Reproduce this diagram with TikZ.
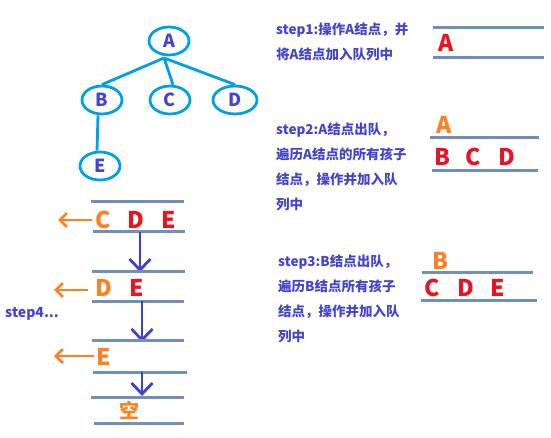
\documentclass[tikz,border=0pt]{standalone}
\usepackage{fontspec}
\setmainfont{Noto Sans CJK SC}
\usetikzlibrary{shapes.geometric,arrows.meta}
\definecolor{treeblue}{RGB}{0,160,225}
\definecolor{textblue}{RGB}{68,68,204}
\definecolor{qorange}{RGB}{255,128,32}
\definecolor{qred}{RGB}{232,20,36}
\definecolor{qgray}{RGB}{112,144,184}
\definecolor{arrowblue}{RGB}{64,64,200}
\begin{document}
\begin{tikzpicture}[x=1pt,y=-1pt,
  treenode/.style={ellipse,draw=treeblue,line width=2.8pt,inner sep=0pt,
    minimum width=40pt,minimum height=28pt,text=textblue,
    font=\fontsize{18}{18}\selectfont\bfseries},
  treeedge/.style={draw=treeblue,line width=2.8pt},
  qbar/.style={draw=qgray,line width=3pt},
  qletter/.style={inner sep=0pt,font=\fontsize{23}{23}\selectfont\bfseries},
  steptext/.style={inner sep=0pt,anchor=north west,align=left,text=textblue,
    font=\fontsize{13.5}{25}\selectfont\bfseries},
  outarrow/.style={draw=qorange,line width=2.8pt,-{Straight Barb[length=7pt,width=14pt]}},
  downarrow/.style={draw=arrowblue,line width=2.8pt,-{Straight Barb[length=11pt,width=21pt]}}]
\useasboundingbox (0,0) rectangle (551,438);

% Marking the tree nodes
\node[treenode] (A) at (169,41) {A};
\node[treenode] (B) at (102,100) {B};
\node[treenode] (C) at (170,100) {C};
\node[treenode,minimum width=44pt] (D) at (235,100) {D};
\node[treenode] (E) at (100,166) {E};
\coordinate (Aroot) at (164,58);

% Drawing the tree edges
\draw[treeedge] (Aroot) -- (B.north);
\draw[treeedge] (Aroot) -- ([xshift=3pt]C.north);
\draw[treeedge] (Aroot) -- (D.north);
\draw[treeedge] ([xshift=-4pt]B.south) -- ([xshift=-3pt]E.north);

% Drawing the queue after step 3 and its passes
\draw[qbar] (91,202) -- (184,202);
\draw[qbar] (93,232) -- (185,232);
\node[qletter,text=qorange] (q1c) at (103,220) {C};
\node[qletter,text=qred] (q1d) at (136,220) {D};
\node[qletter,text=qred] (q1e) at (169,220) {E};
\coordinate (out1) at (58,220);
\draw[outarrow] ([xshift=-3pt]q1c.west) -- (out1);
\coordinate (pass1a) at (140,232);
\coordinate (pass1b) at (140,272);
\draw[downarrow] (pass1a) -- (pass1b);

\draw[qbar] (92,271) -- (185,271);
\draw[qbar] (92,301) -- (184,301);
\node[qletter,text=qorange] (q2d) at (104,288) {D};
\node[qletter,text=qred] (q2e) at (137,288) {E};
\coordinate (out2) at (54,290);
\draw[outarrow] ([xshift=-7pt]q2d.west |- out2) -- (out2);
\node[inner sep=0pt,text=textblue,font=\fontsize{14}{14}\selectfont\bfseries,anchor=west] (step4) at (5,314) {step4...};
\coordinate (pass2a) at (142,301);
\coordinate (pass2b) at (142,342);
\draw[downarrow] (pass2a) -- (pass2b);

\draw[qbar] (92,340) -- (184,340);
\draw[qbar] (93,372) -- (187,372);
\node[qletter,text=qorange] (q3e) at (104,357) {E};
\coordinate (out3) at (54,356);
\draw[outarrow] ([xshift=-3pt]q3e.west |- out3) -- (out3);
\coordinate (pass3a) at (142,372);
\coordinate (pass3b) at (142,396);
\draw[downarrow] (pass3a) -- (pass3b);

\draw[qbar] (91,397) -- (184,397);
\draw[qbar] (94,423) -- (184,423);
\node[inner sep=0pt,text=qorange,font=\fontsize{20}{20}\selectfont\bfseries] (empty) at (129,410) {空};

% Marking step 1
\node[steptext] (step1) at (276,23) {step1:操作A结点，并\\将A结点加入队列中};
\draw[qbar] (433,28) -- (544,28);
\draw[qbar] (433,58) -- (544,58);
\node[qletter,text=qred] (s1a) at (446,43) {A};

% Marking step 2
\node[steptext] (step2) at (276,123) {step2:A结点出队，\\遍历A结点的所有孩子\\结点，操作并加入队\\列中};
\node[qletter,text=qorange] (s2a) at (444,125) {A};
\draw[qbar] (430,138) -- (539,138);
\node[qletter,text=qred] (s2b) at (442,157) {B};
\node[qletter,text=qred] (s2c) at (473,157) {C};
\node[qletter,text=qred] (s2d) at (507,157) {D};
\draw[qbar] (432,171) -- (538,171);

% Marking step 3
\node[steptext] (step3) at (278,255) {step3:B结点出队，\\遍历B结点所有孩子\\结点，操作并加入队\\列中};
\node[qletter,text=qorange] (s3b) at (440,261) {B};
\draw[qbar] (422,272) -- (533,272);
\node[qletter,text=qred] (s3c) at (432,288) {C};
\node[qletter,text=qred] (s3d) at (466,288) {D};
\node[qletter,text=qred] (s3e) at (498,288) {E};
\draw[qbar] (421,300) -- (537,300);
\end{tikzpicture}
\end{document}
